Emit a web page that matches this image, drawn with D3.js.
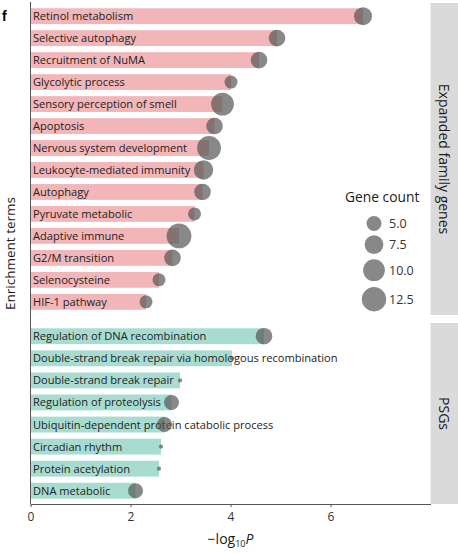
<!DOCTYPE html>
<html>
<head>
<meta charset="utf-8">
<script src="https://cdn.jsdelivr.net/npm/d3@7"></script>
<style>
  html, body { margin: 0; padding: 0; background: #fff; }
  svg { display: block; font-family: "Open Sans", sans-serif; }
</style>
</head>
<body>
<div id="chart"></div>
<script>
// terms, -log10 P and gene counts
const expandedTerms = [
  "Retinol metabolism", "Selective autophagy", "Recruitment of NuMA",
  "Glycolytic process", "Sensory perception of smell", "Apoptosis",
  "Nervous system development", "Leukocyte-mediated immunity", "Autophagy",
  "Pyruvate metabolic", "Adaptive immune", "G2/M transition",
  "Selenocysteine", "HIF-1 pathway"
];
const expandedLogP = [6.65, 4.93, 4.57, 4.01, 3.84, 3.68, 3.57, 3.46, 3.44, 3.28, 2.97, 2.84, 2.57, 2.31];
const expandedCount = [7, 6, 6, 4, 11, 6, 12, 8, 6, 4, 13, 6, 4, 4];

const psgTerms = [
  "Regulation of DNA recombination",
  "Double-strand break repair via homologous recombination",
  "Double-strand break repair", "Regulation of proteolysis",
  "Ubiquitin-dependent protein catabolic process", "Circadian rhythm",
  "Protein acetylation", "DNA metabolic"
];
const psgLogP = [4.67, 4.03, 2.99, 2.82, 2.68, 2.61, 2.57, 2.1];
const psgCount = [6, 2, 2, 5, 5, 2, 2, 5];

const xTicks = [0, 2, 4, 6];
const sizeBreaks = [5, 7.5, 10, 12.5];

const W = 458, H = 553;
const plotLeft = 30.5, plotRight = 430.5;
const stripW = 27.5;

const svg = d3.select("#chart").append("svg")
  .attr("width", W).attr("height", H);

const x = d3.scaleLinear().domain([0, 8]).range([plotLeft, plotRight]);

// ggplot style area mapping: rescale count, then sqrt onto radius
const countT = d3.scaleLinear().domain([2, 13]).range([0, 1]);
const rRoot = d3.scaleSqrt().domain([0, 1]).range([2.1, 12.4]);
const r = (c) => rRoot(countT(c));

const panels = [
  { name: "Expanded family genes", terms: expandedTerms, logp: expandedLogP, count: expandedCount,
    top: 3, bottom: 315, fill: "#f2b6b9" },
  { name: "PSGs", terms: psgTerms, logp: psgLogP, count: psgCount,
    top: 323, bottom: 504, fill: "#a8dcd1" }
];

panels.forEach((p) => {
  const y = d3.scalePoint().domain(p.terms).range([p.top, p.bottom]).padding(0.6);
  const barH = y.step() * 0.72;
  const rows = p.terms.map((t, i) => ({ term: t, v: p.logp[i], n: p.count[i] }));
  const g = svg.append("g");

  g.selectAll("rect.bar").data(rows).join("rect")
    .attr("class", "bar")
    .attr("x", x(0))
    .attr("y", (d) => y(d.term) - barH / 2)
    .attr("width", (d) => x(d.v) - x(0))
    .attr("height", barH)
    .attr("fill", p.fill);

  g.selectAll("text.term").data(rows).join("text")
    .attr("class", "term")
    .attr("x", x(0) + 2.5)
    .attr("y", (d) => y(d.term))
    .attr("dy", "0.36em")
    .attr("font-size", 11.1)
    .attr("fill", "#222")
    .text((d) => d.term);

  g.selectAll("circle.dot").data(rows).join("circle")
    .attr("class", "dot")
    .attr("cx", (d) => x(d.v))
    .attr("cy", (d) => y(d.term))
    .attr("r", (d) => r(d.n))
    .attr("fill", "#555")
    .attr("fill-opacity", 0.7);

  // facet strip
  svg.append("rect")
    .attr("x", plotRight).attr("y", p.top)
    .attr("width", stripW).attr("height", p.bottom - p.top)
    .attr("fill", "#dadada");
  svg.append("text")
    .attr("transform", `translate(${plotRight + stripW / 2},${(p.top + p.bottom) / 2}) rotate(90)`)
    .attr("text-anchor", "middle")
    .attr("dy", "0.35em")
    .attr("font-size", 14)
    .attr("fill", "#1a1a1a")
    .text(p.name);
});

// axes
const axisY = 504;
const xAxis = svg.append("g")
  .attr("transform", `translate(0,${axisY})`)
  .call(d3.axisBottom(x).tickValues(xTicks).tickSize(3).tickPadding(5).tickSizeOuter(0));
xAxis.select(".domain").attr("stroke", "#555");
xAxis.selectAll(".tick line").attr("stroke", "#555");
xAxis.selectAll(".tick text").attr("font-size", 12).attr("fill", "#333")
  .attr("font-family", "Open Sans, sans-serif");

svg.append("line")
  .attr("x1", plotLeft).attr("x2", plotLeft)
  .attr("y1", 2).attr("y2", axisY)
  .attr("stroke", "#555");

const xTitle = svg.append("text")
  .attr("x", (plotLeft + plotRight) / 2)
  .attr("y", 544)
  .attr("text-anchor", "middle")
  .attr("font-size", 14)
  .attr("fill", "#1a1a1a");
xTitle.append("tspan").text("\u2212log");
xTitle.append("tspan").attr("font-size", 9).attr("dy", 3).text("10");
xTitle.append("tspan").attr("font-style", "italic").attr("dy", -3).text("P");

svg.append("text")
  .attr("transform", `translate(10,${(3 + axisY) / 2}) rotate(-90)`)
  .attr("text-anchor", "middle")
  .attr("dy", "0.35em")
  .attr("font-size", 13.5)
  .attr("fill", "#1a1a1a")
  .text("Enrichment terms");

svg.append("text")
  .attr("x", 2).attr("y", 21)
  .attr("font-size", 14).attr("font-weight", "bold")
  .attr("font-family", "Liberation Sans, Arial, sans-serif")
  .text("f");

// size legend
const legend = svg.append("g");
legend.append("text")
  .attr("x", 345).attr("y", 202)
  .attr("font-size", 13.8).attr("fill", "#1a1a1a")
  .text("Gene count");

let ky = 214;
const keys = sizeBreaks.map((b) => {
  const h = r(b) * 2 * 1.26;
  const k = { b, cy: ky + h / 2 };
  ky += h;
  return k;
});
legend.selectAll("circle").data(keys).join("circle")
  .attr("cx", 374).attr("cy", (d) => d.cy)
  .attr("r", (d) => r(d.b))
  .attr("fill", "#555").attr("fill-opacity", 0.7);
legend.selectAll("text.lab").data(keys).join("text")
  .attr("class", "lab")
  .attr("x", 389).attr("y", (d) => d.cy)
  .attr("dy", "0.36em")
  .attr("font-size", 12.5).attr("fill", "#333")
  .text((d) => d3.format(".1f")(d.b));
</script>
</body>
</html>
